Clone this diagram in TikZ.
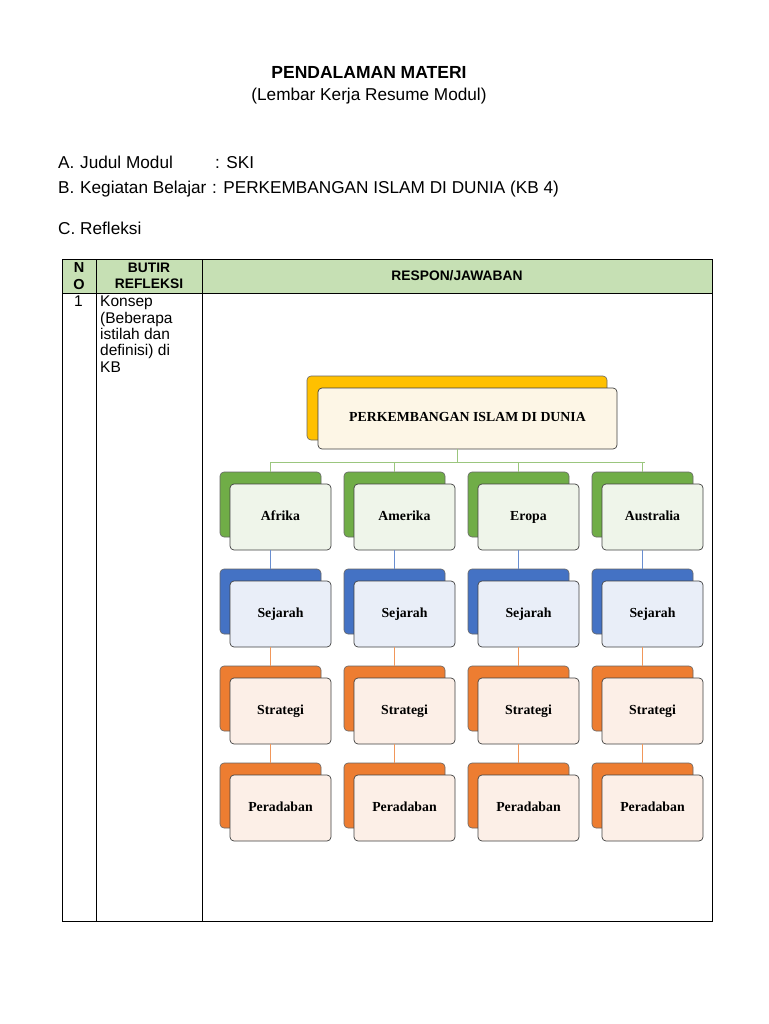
\documentclass[tikz,border=0pt]{standalone}
\usepackage{fontspec}
\setmainfont{Liberation Sans}
\newfontfamily\serif{Liberation Serif}
\begin{document}
\begin{tikzpicture}[x=1pt,y=-1pt,
  txt/.style={anchor=base west,inner sep=0,font=\fontsize{17.2}{20}\selectfont},
  cell/.style={inner sep=0,font=\fontsize{15.5}{18}\selectfont,align=left,anchor=north west},
  backbox/.style={rounded corners=4pt,draw=black!60,line width=0.6pt},
  frontbox/.style={rounded corners=4pt,draw=black!75,line width=0.7pt,minimum width=101pt,minimum height=66pt,text height=9pt,text depth=2.5pt,font=\serif\bfseries\fontsize{13.8}{15}\selectfont},
  conn/.style={line width=0.8pt}]
\useasboundingbox (0,0) rectangle (768,1024);
\definecolor{hdr}{HTML}{C6E0B4}
\definecolor{cg}{HTML}{70AD47}\definecolor{cb}{HTML}{4472C4}
\definecolor{co}{HTML}{ED7D31}\definecolor{cy}{HTML}{FFC000}
\definecolor{fg}{HTML}{EFF5EA}\definecolor{fb}{HTML}{E9EEF8}
\definecolor{fo}{HTML}{FCEFE7}\definecolor{fy}{HTML}{FDF6E6}
% heading
\node[inner sep=0,font=\bfseries\fontsize{17.5}{20}\selectfont] (t1) at (369,72) {PENDALAMAN MATERI};
\node[inner sep=0,font=\fontsize{17.2}{20}\selectfont] (t2) at (369,96) {(Lembar Kerja Resume Modul)};
\node[txt] (a1) at (58,169) {A.};\node[txt] (a2) at (80,169) {Judul Modul};\node[txt] (a3) at (215,169) {: SKI};
\node[txt] (b1) at (58,194) {B.};\node[txt] (b2) at (80,194) {Kegiatan Belajar};\node[txt] (b3) at (212,194) {: PERKEMBANGAN ISLAM DI DUNIA (KB 4)};
\node[txt] (c1) at (58,234) {C.};\node[txt] (c2) at (80,234) {Refleksi};
% table
\fill[hdr] (62,259) rectangle (712,293);
\draw[line width=0.8pt] (62,259) rectangle (712,921);
\draw[line width=0.8pt] (62,293) -- (712,293) (96,259) -- (96,921) (202,259) -- (202,921);
\node[inner sep=0,align=center,font=\bfseries\fontsize{14.5}{16.5}\selectfont] (h1) at (79,276) {N\\O};
\node[inner sep=0,align=center,font=\bfseries\fontsize{13.8}{16}\selectfont] (h2) at (149,276) {BUTIR\\REFLEKSI};
\node[inner sep=0,font=\bfseries\fontsize{13.8}{16}\selectfont] (h3) at (457,276) {RESPON/JAWABAN};
\node[cell] (n1) at (74,296) {1};
\node[cell,font=\fontsize{15.5}{16.3}\selectfont] (k1) at (100,296) {Konsep\\(Beberapa\\istilah dan\\definisi) di\\KB};
% top box
\draw[backbox,fill=cy] (307,376) rectangle (607,440);
\node[frontbox,fill=fy,minimum width=299pt,minimum height=61pt] (top) at (467.5,418.5) {PERKEMBANGAN ISLAM DI DUNIA};
\coordinate (hub) at (457,462);
\draw[conn,cg!70] (top.south -| hub) -- (hub);
\draw[conn,cg!70] (270,462) -- (645,462);
\foreach \i/\name in {0/Afrika,1/Amerika,2/Eropa,3/Australia}{
  \pgfmathsetmacro\bx{220+124*\i}
  \foreach \j/\lab/\cc/\ff in {0/\name/cg/fg,1/Sejarah/cb/fb,2/Strategi/co/fo,3/Peradaban/co/fo}{
    \pgfmathsetmacro\by{472+97*\j}
    \draw[backbox,fill=\cc] (\bx,\by) rectangle ++(101,65);
    \node[frontbox,fill=\ff] (n\i\j) at (\bx+60.5,\by+45) {\lab};
  }
  \coordinate (d\i) at (\bx+50,462);
  \draw[conn,cg!70] (d\i) -- (\bx+50,472);
  \draw[conn,cb!80] (n\i0.south -| d\i) -- (\bx+50,569);
  \draw[conn,co!80] (n\i1.south -| d\i) -- (\bx+50,666);
  \draw[conn,co!80] (n\i2.south -| d\i) -- (\bx+50,763);
}
\end{tikzpicture}
\end{document}
